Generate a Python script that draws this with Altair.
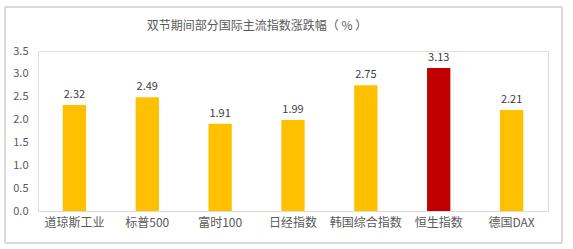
import altair as alt
import pandas as pd

title_text = "双节期间部分国际主流指数涨跌幅（ % ）"
categories = ["道琼斯工业", "标普500", "富时100", "日经指数", "韩国综合指数", "恒生指数", "德国DAX"]
values = [2.32, 2.49, 1.91, 1.99, 2.75, 3.13, 2.21]
highlight = [False, False, False, False, False, True, False]
y_ticks = [0, 0.5, 1, 1.5, 2, 2.5, 3, 3.5]

df = pd.DataFrame({"cat": categories, "val": values, "hl": highlight})
FONT = "Noto Sans CJK SC"

base = alt.Chart(df).encode(
    x=alt.X("cat:N", sort=categories, title=None,
            scale=alt.Scale(paddingInner=0.68, paddingOuter=0.34),
            axis=alt.Axis(labelAngle=0, ticks=False, domainColor="#d9d9d9",
                          labelColor="#595959", labelFontSize=12, labelFont=FONT,
                          labelPadding=6)),
    y=alt.Y("val:Q", title=None, scale=alt.Scale(domain=[0, 3.5]),
            axis=alt.Axis(values=y_ticks, format=".1f",
                          grid=False, domain=False, ticks=False, labelColor="#595959",
                          labelFontSize=11, labelFont=FONT, labelPadding=10,
                          labelOverlap=False, labelBound=False)),
)

bars = base.mark_bar().encode(
    color=alt.Color("hl:N", scale=alt.Scale(domain=[False, True], range=["#FFC000", "#C00000"]), legend=None),
)

labels = base.mark_text(dy=-10, fontSize=11, font=FONT, color="#404040").encode(
    text=alt.Text("val:Q", format=".2f"))

frame = alt.Chart(df).mark_rect(fill=None, stroke="#d9d9d9", strokeWidth=1).encode(
    x=alt.value(-33), x2=alt.value(524), y=alt.value(-44), y2=alt.value(192))

title = alt.Chart(pd.DataFrame({"t": [title_text]})).mark_text(
    fontSize=12, font=FONT, color="#595959", align="center", baseline="middle").encode(
    x=alt.value(219), y=alt.value(-25), text="t:N")

chart = alt.layer(frame, bars, labels, title).properties(
    width=510, height=160,
    autosize=alt.AutoSizeParams(type="none"),
    padding={"left": 38, "top": 51, "right": 25, "bottom": 38},
).configure_view(stroke=None).configure(background="white")

chart.save("out.html", embed_options={"renderer": "svg", "actions": False})
